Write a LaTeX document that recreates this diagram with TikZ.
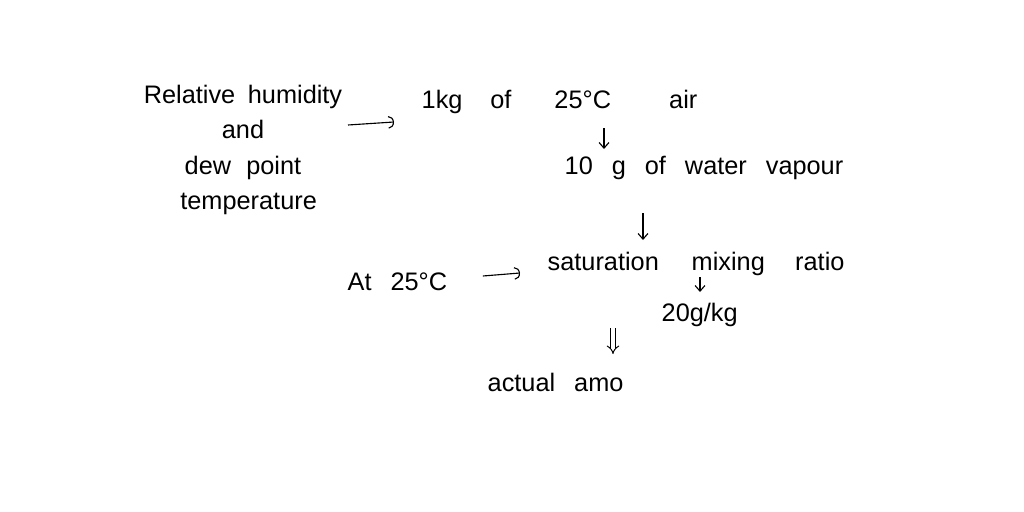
\documentclass[tikz,border=0pt]{standalone}
\usepackage{fontspec}
\setmainfont{Liberation Sans}
\usepackage{tikz}
\usetikzlibrary{arrows.meta, positioning}

\newcommand{\gap}[1][0.75em]{\hspace{#1}}

\begin{document}
\begin{tikzpicture}[x=0.025cm, y=-0.025cm,
    note/.style={font=\fontsize{18}{25}\selectfont, inner sep=1pt, anchor=west},
    flow/.style={-{Arc Barb[length=4pt, width=9pt]}, line width=0.8pt},
    down/.style={-{Straight Barb[length=4pt, width=7pt]}, line width=0.8pt},
    imply/.style={double, double distance=2.4pt, line width=0.7pt, -{Implies}}
]
\useasboundingbox (0,0) rectangle (1024,512);

% Nodes
\node[note, align=center, anchor=center] (rh) at (243,150) {Relative\gap[0.5em]humidity\\and\\dew\gap[0.6em]point\\\hphantom{ii}temperature};
\node[note] (kg) at (420,102) {1kg\gap[1.1em]of\gap[1.7em]25°C\gap[2.3em]air};
\node[note] (vap) at (563,168) {10\gap g\gap of\gap water\gap vapour};
\node[note] (at) at (346,282) {At\gap 25°C};
\node[note] (sat) at (546,264) {saturation\gap[1.3em]mixing\gap[1.2em]ratio};
\node[note] (gkg) at (660,315) {20g/kg};
\node[note] (act) at (486,382) {actual\gap amo};

% Connections
\draw[flow] ([shift={(-72,23)}]kg.west) -- ([shift={(-26,20)}]kg.west);
\draw[down] ([shift={(184,26)}]kg.west) -- ([shift={(41,-19)}]vap.west);
\draw[down] ([shift={(80,45)}]vap.west) -- ([shift={(97,-24)}]sat.west);
\draw[flow] ([shift={(34,-6)}]at.east) -- ([shift={(-26,9)}]sat.west);
\draw[down] ([shift={(154,13)}]sat.west) -- ([shift={(40,-23)}]gkg.west);
\draw[imply] ([shift={(67,64)}]sat.west) -- ([shift={(127,-28)}]act.west);

\end{tikzpicture}
\end{document}
